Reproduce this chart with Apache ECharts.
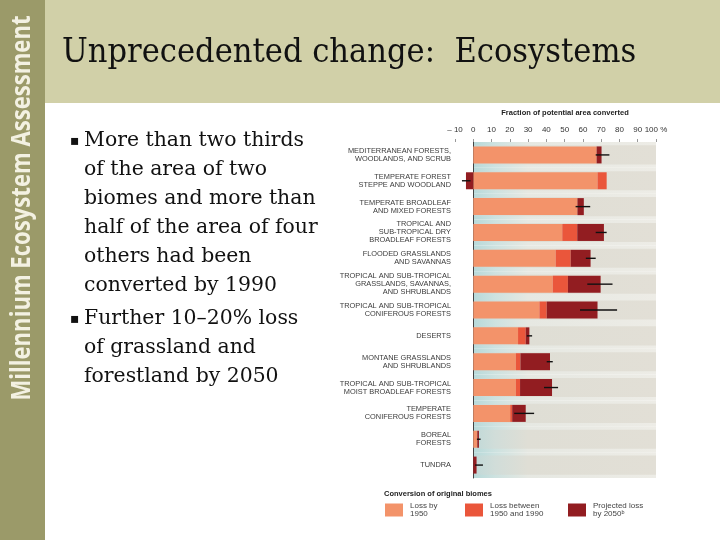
<!DOCTYPE html>
<html>
<head>
<meta charset="utf-8">
<script src="https://cdn.jsdelivr.net/npm/echarts@6/dist/echarts.min.js"></script>
<style>
html, body { margin: 0; padding: 0; background: #fff; }
#chart { width: 720px; height: 540px; }
</style>
</head>
<body>
<div id="chart"></div>
<script>
// biomes, top to bottom
const biomes = [
  "MEDITERRANEAN FORESTS,\nWOODLANDS, AND SCRUB",
  "TEMPERATE FOREST\nSTEPPE AND WOODLAND",
  "TEMPERATE BROADLEAF\nAND MIXED FORESTS",
  "TROPICAL AND\nSUB-TROPICAL DRY\nBROADLEAF FORESTS",
  "FLOODED GRASSLANDS\nAND SAVANNAS",
  "TROPICAL AND SUB-TROPICAL\nGRASSLANDS, SAVANNAS,\nAND SHRUBLANDS",
  "TROPICAL AND SUB-TROPICAL\nCONIFEROUS FORESTS",
  "DESERTS",
  "MONTANE GRASSLANDS\nAND SHRUBLANDS",
  "TROPICAL AND SUB-TROPICAL\nMOIST BROADLEAF FORESTS",
  "TEMPERATE\nCONIFEROUS FORESTS",
  "BOREAL\nFORESTS",
  "TUNDRA"
];
// % of potential area converted
const lossBy1950 = [67.5, 68, 57, 48.7, 45.1, 43.5, 36.2, 24.5, 23.3, 23.3, 20.2, 2.2, 0];
const loss1950to1990 = [0, 5, 0, 8.2, 8.2, 8.3, 4.0, 4.2, 2.5, 2.3, 1.1, 0, 0];
const projected2050 = [2.7, -4, 3.5, 14.6, 10.9, 17.9, 27.8, 2.0, 16.2, 17.5, 7.4, 0.9, 1.8];
// uncertainty range of the 2050 projection
const errLow = [67, -6.2, 56, 67, 61.6, 62.4, 58.4, 29.3, 40.2, 38.7, 22.4, 2, 1];
const errHigh = [74.5, -1.5, 64, 73, 67, 76.2, 78.7, 32.2, 43.5, 46.4, 33.3, 4, 5.3];

const seriesNames = ["Loss by\n1950", "Loss between\n1950 and 1990", "Projected loss\nby 2050ᵇ"];
const bulletOne = "More than two thirds\nof the area of two\nbiomes and more than\nhalf of the area of four\nothers had been\nconverted by 1990";
const bulletTwo = "Further 10\u201320% loss\nof grassland and\nforestland by 2050";

const chart = echarts.init(document.getElementById("chart"));

function renderBand(params, api) {
  const idx = params.dataIndex;
  const l = api.coord([0, idx]);
  const r = api.coord([100, idx]);
  const full = api.size([0, 1])[1];
  const h = full * 0.74;
  return {
    type: "group",
    children: [
      {
        type: "rect",
        shape: { x: l[0], y: l[1] - full / 2, width: r[0] - l[0], height: full },
        style: {
          fill: new echarts.graphic.LinearGradient(0, 0, 1, 0, [
            { offset: 0, color: "#b7d9d9" },
            { offset: 0.12, color: "#cde2e0" },
            { offset: 0.3, color: "#e6e8e2" },
            { offset: 1, color: "#edece6" }
          ])
        }
      },
      {
        type: "rect",
        shape: { x: l[0], y: l[1] - h / 2, width: r[0] - l[0], height: h },
        style: {
          fill: new echarts.graphic.LinearGradient(0, 0, 1, 0, [
            { offset: 0, color: "#c0d9d8" },
            { offset: 0.12, color: "#d1ddd9" },
            { offset: 0.3, color: "#dfded5" },
            { offset: 1, color: "#e2dfd6" }
          ])
        }
      }
    ]
  };
}

function renderErr(params, api) {
  const a = api.coord([api.value(1), api.value(0)]);
  const b = api.coord([api.value(2), api.value(0)]);
  return {
    type: "line",
    shape: { x1: a[0], y1: a[1], x2: b[0], y2: b[1] },
    style: { stroke: "#111", lineWidth: 1.4 }
  };
}

const option = {
  animation: false,
  backgroundColor: "#fff",
  grid: { left: 455, right: 64, top: 142, bottom: 62, containLabel: false },
  xAxis: {
    type: "value",
    position: "top",
    min: -10,
    max: 100,
    interval: 10,
    axisLine: { show: false },
    axisTick: { show: true, length: 3, lineStyle: { color: "#999" } },
    splitLine: { show: true, lineStyle: { color: "rgba(255,255,255,0.6)", width: 1 } },
    axisLabel: {
      fontSize: 8,
      color: "#333",
      margin: 8,
      fontFamily: "Liberation Sans",
      formatter: function (v) {
        if (v === -10) return "\u2013 10";
        if (v === 100) return "100 %";
        return v;
      }
    }
  },
  yAxis: {
    type: "category",
    data: biomes,
    inverse: true,
    axisLine: { show: true, onZero: true, lineStyle: { color: "#444", width: 1 } },
    axisTick: { show: false },
    splitLine: { show: false },
    axisLabel: {
      fontSize: 7.4,
      lineHeight: 8,
      color: "#3a3a3a",
      margin: 4,
      fontFamily: "Liberation Sans"
    }
  },
  legend: {
    left: 385,
    top: 502,
    padding: 0,
    icon: "rect",
    itemWidth: 18,
    itemHeight: 13,
    itemGap: 23,
    textStyle: { fontSize: 8, lineHeight: 8, color: "#444", fontFamily: "Liberation Sans", padding: [0, 0, 0, 2] },
    data: [
      { name: seriesNames[0], textStyle: { width: 32 } },
      { name: seriesNames[1], textStyle: { width: 55 } },
      { name: seriesNames[2], textStyle: { width: 60 } }
    ]
  },
  graphic: [
    { type: "rect", z: -10, shape: { x: 0, y: 0, width: 45, height: 540 }, style: { fill: "#9b9a69" } },
    { type: "rect", z: -10, shape: { x: 45, y: 0, width: 675, height: 103 }, style: { fill: "#d1d0a8" } },
    {
      type: "text", x: 23, y: 208, rotation: Math.PI / 2, scaleX: 0.85,
      style: { text: "Millennium Ecosystem Assessment", font: 'bold 26px "Open Sans"', fill: "#f3f1e2", align: "center", verticalAlign: "middle" }
    },
    {
      type: "text", x: 62, y: 53, scaleX: 0.9,
      style: { text: "Unprecedented change:  Ecosystems", font: '34px "DejaVu Serif"', fill: "#111", verticalAlign: "middle" }
    },
    { type: "text", x: 70, y: 141, style: { text: "\u25AA", font: '14px "DejaVu Sans"', fill: "#111", verticalAlign: "middle" } },
    { type: "text", x: 84, y: 126.5, style: { text: bulletOne, font: '20.4px "DejaVu Serif"', lineHeight: 29, fill: "#111", verticalAlign: "top" } },
    { type: "text", x: 70, y: 319, style: { text: "\u25AA", font: '14px "DejaVu Sans"', fill: "#111", verticalAlign: "middle" } },
    { type: "text", x: 84, y: 304.5, style: { text: bulletTwo, font: '20.4px "DejaVu Serif"', lineHeight: 29, fill: "#111", verticalAlign: "top" } },
    {
      type: "text", x: 565, y: 113,
      style: { text: "Fraction of potential area converted", font: 'bold 7.5px "Liberation Sans"', fill: "#222", align: "center", verticalAlign: "middle" }
    },
    {
      type: "text", x: 384, y: 494,
      style: { text: "Conversion of original biomes", font: 'bold 7.5px "Liberation Sans"', fill: "#222", verticalAlign: "middle" }
    }
  ],
  series: [
    {
      type: "custom",
      name: "band",
      silent: true,
      z: 0,
      renderItem: renderBand,
      data: biomes.map((b, i) => [i])
    },
    {
      name: seriesNames[0], type: "bar", stack: "loss", barWidth: 17, z: 3,
      itemStyle: { color: "#f3936a" }, data: lossBy1950
    },
    {
      name: seriesNames[1], type: "bar", stack: "loss", barWidth: 17, z: 3,
      itemStyle: { color: "#ea563b" }, data: loss1950to1990
    },
    {
      name: seriesNames[2], type: "bar", stack: "loss", barWidth: 17, z: 3,
      itemStyle: { color: "#921d21" }, data: projected2050
    },
    {
      type: "custom",
      name: "range",
      silent: true,
      z: 5,
      renderItem: renderErr,
      data: errLow.map((lo, i) => [i, lo, errHigh[i]])
    }
  ]
};

chart.setOption(option);
</script>
</body>
</html>
